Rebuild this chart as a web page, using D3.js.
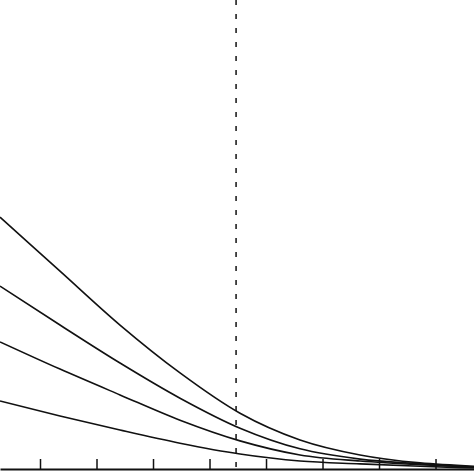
<!DOCTYPE html>
<html>
<head>
<meta charset="utf-8">
<script src="https://cdn.jsdelivr.net/npm/d3@7"></script>
<style>
  html, body { margin: 0; padding: 0; background: #fff; }
  svg { display: block; }
</style>
</head>
<body>
<svg id="chart" width="474" height="474"></svg>
<script>
// x positions (data units; axis ticks at 1..8)
const xValues = [0.292, 1.354, 2.416, 3.478, 4.54, 5.602, 6.664, 7.726, 8.681];
// four decaying series (top to bottom)
const series1 = [5.37, 4.22, 3.07, 2.05, 1.19, 0.62, 0.30, 0.13, 0.06];
const series2 = [3.90, 3.07, 2.26, 1.51, 0.87, 0.43, 0.21, 0.11, 0.04];
const series3 = [2.71, 2.13, 1.58, 1.04, 0.60, 0.30, 0.17, 0.09, 0.04];
const series4 = [1.45, 1.13, 0.83, 0.55, 0.32, 0.17, 0.11, 0.06, 0.02];
const xTicks = [1, 2, 3, 4, 5, 6, 7, 8];
const thresholdX = 4.47;

const W = 474, H = 474;
const axisY = 469;
const svg = d3.select("#chart");

const x = d3.scaleLinear().domain([0.292, 8.681]).range([0, W]);
const y = d3.scaleLinear().domain([0, 10]).range([axisY, 0]);

// dashed vertical line
svg.append("line")
  .attr("x1", x(thresholdX)).attr("x2", x(thresholdX))
  .attr("y1", 0).attr("y2", axisY)
  .attr("stroke", "#111").attr("stroke-width", 1.5)
  .attr("stroke-dasharray", "5,9");

// curves
const line = d3.line()
  .x((d, i) => x(xValues[i]))
  .y(d => y(d))
  .curve(d3.curveMonotoneX);

[series1, series2, series3, series4].forEach(s => {
  svg.append("path")
    .datum(s)
    .attr("d", line)
    .attr("fill", "none")
    .attr("stroke", "#111")
    .attr("stroke-width", 1.6);
});

// bottom axis with inward ticks
const axis = d3.axisBottom(x)
  .tickValues(xTicks)
  .tickSizeInner(-10)
  .tickSizeOuter(0)
  .tickFormat("");
const g = svg.append("g")
  .attr("transform", `translate(0,${axisY})`)
  .call(axis);
g.select(".domain").attr("stroke", "#111").attr("stroke-width", 2);
g.selectAll(".tick line").attr("stroke", "#111").attr("stroke-width", 1.5);
</script>
</body>
</html>
